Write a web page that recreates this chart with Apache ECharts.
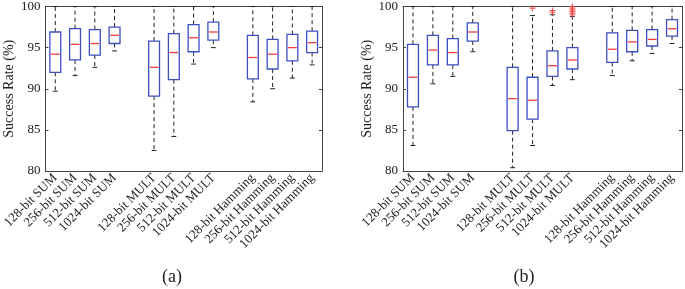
<!DOCTYPE html>
<html>
<head>
<meta charset="utf-8">
<script src="https://cdn.jsdelivr.net/npm/echarts@6/dist/echarts.min.js"></script>
<style>
  html, body { margin: 0; padding: 0; background: #fff; }
  #main { width: 685px; height: 289px; }
</style>
</head>
<body>
<div id="main"></div>
<script>
// categories (empty slots are the gaps between groups)
var categories = ['128-bit SUM', '256-bit SUM', '512-bit SUM', '1024-bit SUM', '',
  '128-bit MULT', '256-bit MULT', '512-bit MULT', '1024-bit MULT', '',
  '128-bit Hamming', '256-bit Hamming', '512-bit Hamming', '1024-bit Hamming'];
var slots = [0, 1, 2, 3, 5, 6, 7, 8, 10, 11, 12, 13];
var yTicks = [80, 85, 90, 95, 100];

// panel (a)
var aLow  = [89.7, 91.6, 92.6, 94.6, 82.5, 84.2, 93.0, 95.0, 88.4, 90.0, 91.3, 92.9];
var aQ1   = [92.0, 93.5, 94.1, 95.5, 89.1, 91.1, 94.5, 95.9, 91.2, 92.4, 93.4, 94.4];
var aMed  = [94.2, 95.4, 95.5, 96.5, 92.6, 94.4, 96.2, 96.9, 93.8, 94.2, 95.0, 95.6];
var aQ3   = [96.9, 97.3, 97.2, 97.5, 95.8, 96.7, 97.8, 98.1, 96.5, 96.0, 96.6, 97.0];
var aHigh = [100, 100, 100, 100, 100, 100, 100, 100, 100, 100, 100, 100];

// panel (b)
var bLow  = [83.1, 90.6, 91.5, 94.5, 80.4, 83.1, 90.4, 91.1, 91.6, 93.4, 94.3, 95.5];
var bQ1   = [87.8, 92.9, 92.9, 95.8, 84.9, 86.3, 91.5, 92.4, 93.2, 94.5, 95.2, 96.4];
var bMed  = [91.4, 94.7, 94.4, 96.9, 88.8, 88.6, 92.8, 93.5, 94.8, 95.7, 96.0, 97.3];
var bQ3   = [95.4, 96.5, 96.1, 98.0, 92.6, 91.4, 94.6, 95.0, 96.8, 97.1, 97.2, 98.4];
var bHigh = [100, 100, 100, 100, 100, 98.9, 99.0, 98.8, 100, 100, 100, 100];
var bOutliers = [[6, 99.8], [7, 99.3], [7, 99.5], [8, 99.0], [8, 99.2], [8, 99.4],
  [8, 99.6], [8, 99.8], [8, 100]];

var font = 'Liberation Serif, DejaVu Serif, serif';

function boxData(low, q1, med, q3, high) {
  return slots.map(function (s, i) {
    return [s, low[i], q1[i], med[i], q3[i], high[i]];
  });
}

function renderBox(params, api) {
  var x = api.value(0);
  var pLow = api.coord([x, api.value(1)]);
  var pQ1 = api.coord([x, api.value(2)]);
  var pMed = api.coord([x, api.value(3)]);
  var pQ3 = api.coord([x, api.value(4)]);
  var pHigh = api.coord([x, api.value(5)]);
  var w = api.size([1, 0])[0] * 0.55;
  var cw = w * 0.45;
  var cx = pMed[0];
  var dash = { stroke: '#222', lineWidth: 1, lineDash: [4, 3] };
  var solid = { stroke: '#222', lineWidth: 1 };
  return {
    type: 'group',
    children: [
      { type: 'line', shape: { x1: cx, y1: pQ3[1], x2: cx, y2: pHigh[1] }, style: dash },
      { type: 'line', shape: { x1: cx, y1: pQ1[1], x2: cx, y2: pLow[1] }, style: dash },
      { type: 'line', shape: { x1: cx - cw / 2, y1: pHigh[1], x2: cx + cw / 2, y2: pHigh[1] }, style: solid },
      { type: 'line', shape: { x1: cx - cw / 2, y1: pLow[1], x2: cx + cw / 2, y2: pLow[1] }, style: solid },
      { type: 'rect', shape: { x: cx - w / 2, y: pQ3[1], width: w, height: pQ1[1] - pQ3[1] },
        style: { fill: '#fff', stroke: '#3c4fc0', lineWidth: 1.3 } },
      { type: 'line', shape: { x1: cx - w / 2 + 1, y1: pMed[1], x2: cx + w / 2 - 1, y2: pMed[1] },
        style: { stroke: '#f03c3c', lineWidth: 1.3 } }
    ]
  };
}

var grids = [
  { left: 40, top: 5, width: 282, height: 166 },
  { left: 403, top: 5, width: 279, height: 166 }
];

var xAxes = [], yAxes = [];
[0, 1].forEach(function (g) {
  xAxes.push({
    type: 'category', gridIndex: g, data: categories,
    axisLine: { lineStyle: { color: '#444' } },
    axisTick: { inside: true, length: 3, alignWithLabel: true, interval: 0, lineStyle: { color: '#444' } },
    axisLabel: { interval: 0, rotate: 45, margin: 5, color: '#222', fontFamily: font, fontSize: 13 }
  });
  yAxes.push({
    type: 'value', gridIndex: g, min: 80, max: 100, interval: 5,
    name: 'Success Rate (%)', nameLocation: 'middle', nameGap: 29,
    nameTextStyle: { color: '#222', fontFamily: font, fontSize: 14 },
    axisLine: { show: true, lineStyle: { color: '#444' } },
    axisTick: { show: true, inside: true, length: 3, lineStyle: { color: '#444' } },
    axisLabel: { color: '#222', fontFamily: font, fontSize: 13, margin: 5,
      formatter: function (v) { return yTicks.indexOf(v) >= 0 ? v : ''; } },
    splitLine: { show: false }
  });
  yAxes.push({
    type: 'value', gridIndex: g, min: 80, max: 100, interval: 5, position: 'right',
    axisLine: { show: true, lineStyle: { color: '#444' } },
    axisTick: { show: true, inside: true, length: 3, lineStyle: { color: '#444' } },
    axisLabel: { show: false }, splitLine: { show: false }
  });
  xAxes.push({
    type: 'category', gridIndex: g, data: categories, position: 'top',
    axisLine: { show: true, lineStyle: { color: '#444' } },
    axisTick: { show: false }, axisLabel: { show: false }
  });
});

var chart = echarts.init(document.getElementById('main'));
chart.setOption({
  animation: false,
  backgroundColor: '#fff',
  title: [
    { text: '(a)', left: 167, top: 263, textAlign: 'center',
      textStyle: { fontFamily: font, fontSize: 18, fontWeight: 'normal', color: '#222' } },
    { text: '(b)', left: 519, top: 263, textAlign: 'center',
      textStyle: { fontFamily: font, fontSize: 18, fontWeight: 'normal', color: '#222' } }
  ],
  grid: grids,
  xAxis: xAxes,
  yAxis: yAxes,
  series: [
    { type: 'custom', xAxisIndex: 0, yAxisIndex: 0, renderItem: renderBox,
      data: boxData(aLow, aQ1, aMed, aQ3, aHigh), clip: false },
    { type: 'custom', xAxisIndex: 2, yAxisIndex: 2, renderItem: renderBox,
      data: boxData(bLow, bQ1, bMed, bQ3, bHigh), clip: false },
    { type: 'scatter', xAxisIndex: 2, yAxisIndex: 2, data: bOutliers,
      symbol: 'path://M0,5L10,5M5,0L5,10', symbolSize: 6,
      itemStyle: { color: 'none', borderColor: '#f03c3c', borderWidth: 1.2 } }
  ]
});
</script>
</body>
</html>
